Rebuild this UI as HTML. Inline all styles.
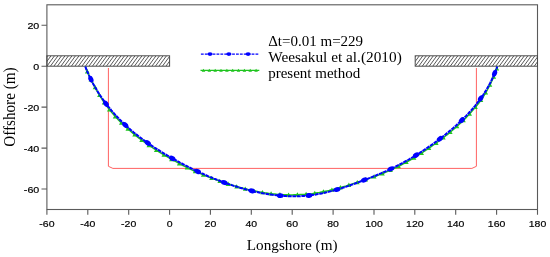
<!DOCTYPE html>
<html><head><meta charset="utf-8"><title>chart</title><style>html,body{margin:0;padding:0;background:#fff}svg{display:block}</style></head><body>
<svg width="550" height="257" viewBox="0 0 550 257">
<rect width="550" height="257" fill="#fff"/>
<rect x="46.9" y="4.8" width="490.6" height="204.7" fill="none" stroke="#5a5a5a" stroke-width="1.1"/>
<path d="M46.9,209.5 V214.7 M87.8,209.5 V214.7 M128.7,209.5 V214.7 M169.6,209.5 V214.7 M210.4,209.5 V214.7 M251.3,209.5 V214.7 M292.2,209.5 V214.7 M333.1,209.5 V214.7 M374.0,209.5 V214.7 M414.8,209.5 V214.7 M455.7,209.5 V214.7 M496.6,209.5 V214.7 M537.5,209.5 V214.7 M46.9,189.0 H41.5 M46.9,148.1 H41.5 M46.9,107.1 H41.5 M46.9,66.2 H41.5 M46.9,25.3 H41.5" stroke="#5a5a5a" stroke-width="1.1" fill="none"/>
<g font-family="'Liberation Sans', sans-serif" font-size="10.3" fill="#000" stroke="#000" stroke-width="0.2">
<text transform="translate(46.9 227.4) scale(1.02 0.94)" text-anchor="middle">-60</text>
<text transform="translate(87.8 227.4) scale(1.02 0.94)" text-anchor="middle">-40</text>
<text transform="translate(128.7 227.4) scale(1.02 0.94)" text-anchor="middle">-20</text>
<text transform="translate(169.6 227.4) scale(1.02 0.94)" text-anchor="middle">0</text>
<text transform="translate(210.4 227.4) scale(1.02 0.94)" text-anchor="middle">20</text>
<text transform="translate(251.3 227.4) scale(1.02 0.94)" text-anchor="middle">40</text>
<text transform="translate(292.2 227.4) scale(1.02 0.94)" text-anchor="middle">60</text>
<text transform="translate(333.1 227.4) scale(1.02 0.94)" text-anchor="middle">80</text>
<text transform="translate(374.0 227.4) scale(1.02 0.94)" text-anchor="middle">100</text>
<text transform="translate(414.8 227.4) scale(1.02 0.94)" text-anchor="middle">120</text>
<text transform="translate(455.7 227.4) scale(1.02 0.94)" text-anchor="middle">140</text>
<text transform="translate(496.6 227.4) scale(1.02 0.94)" text-anchor="middle">160</text>
<text transform="translate(537.5 227.4) scale(1.02 0.94)" text-anchor="middle">180</text>
<text transform="translate(39.3 192.5) scale(1.04 0.94)" text-anchor="end">-60</text>
<text transform="translate(39.3 151.6) scale(1.04 0.94)" text-anchor="end">-40</text>
<text transform="translate(39.3 110.6) scale(1.04 0.94)" text-anchor="end">-20</text>
<text transform="translate(39.3 69.7) scale(1.04 0.94)" text-anchor="end">0</text>
<text transform="translate(39.3 28.8) scale(1.04 0.94)" text-anchor="end">20</text>
</g>
<clipPath id="c0"><rect x="46.9" y="55.8" width="122.7" height="10.4"/></clipPath>
<path d="M32.90,66.2 L40.50,55.8 M36.40,66.2 L44.00,55.8 M39.90,66.2 L47.50,55.8 M43.40,66.2 L51.00,55.8 M46.90,66.2 L54.50,55.8 M50.40,66.2 L58.00,55.8 M53.90,66.2 L61.50,55.8 M57.40,66.2 L65.00,55.8 M60.90,66.2 L68.50,55.8 M64.40,66.2 L72.00,55.8 M67.90,66.2 L75.50,55.8 M71.40,66.2 L79.00,55.8 M74.90,66.2 L82.50,55.8 M78.40,66.2 L86.00,55.8 M81.90,66.2 L89.50,55.8 M85.40,66.2 L93.00,55.8 M88.90,66.2 L96.50,55.8 M92.40,66.2 L100.00,55.8 M95.90,66.2 L103.50,55.8 M99.40,66.2 L107.00,55.8 M102.90,66.2 L110.50,55.8 M106.40,66.2 L114.00,55.8 M109.90,66.2 L117.50,55.8 M113.40,66.2 L121.00,55.8 M116.90,66.2 L124.50,55.8 M120.40,66.2 L128.00,55.8 M123.90,66.2 L131.50,55.8 M127.40,66.2 L135.00,55.8 M130.90,66.2 L138.50,55.8 M134.40,66.2 L142.00,55.8 M137.90,66.2 L145.50,55.8 M141.40,66.2 L149.00,55.8 M144.90,66.2 L152.50,55.8 M148.40,66.2 L156.00,55.8 M151.90,66.2 L159.50,55.8 M155.40,66.2 L163.00,55.8 M158.90,66.2 L166.50,55.8 M162.40,66.2 L170.00,55.8 M165.90,66.2 L173.50,55.8 M169.40,66.2 L177.00,55.8" stroke="#444" stroke-width="0.9" fill="none" clip-path="url(#c0)"/>
<rect x="46.9" y="55.8" width="122.7" height="10.4" fill="none" stroke="#4a4a4a" stroke-width="1"/>
<clipPath id="c1"><rect x="415.2" y="55.8" width="122.3" height="10.4"/></clipPath>
<path d="M401.25,66.2 L408.85,55.8 M404.75,66.2 L412.35,55.8 M408.25,66.2 L415.85,55.8 M411.75,66.2 L419.35,55.8 M415.25,66.2 L422.85,55.8 M418.75,66.2 L426.35,55.8 M422.25,66.2 L429.85,55.8 M425.75,66.2 L433.35,55.8 M429.25,66.2 L436.85,55.8 M432.75,66.2 L440.35,55.8 M436.25,66.2 L443.85,55.8 M439.75,66.2 L447.35,55.8 M443.25,66.2 L450.85,55.8 M446.75,66.2 L454.35,55.8 M450.25,66.2 L457.85,55.8 M453.75,66.2 L461.35,55.8 M457.25,66.2 L464.85,55.8 M460.75,66.2 L468.35,55.8 M464.25,66.2 L471.85,55.8 M467.75,66.2 L475.35,55.8 M471.25,66.2 L478.85,55.8 M474.75,66.2 L482.35,55.8 M478.25,66.2 L485.85,55.8 M481.75,66.2 L489.35,55.8 M485.25,66.2 L492.85,55.8 M488.75,66.2 L496.35,55.8 M492.25,66.2 L499.85,55.8 M495.75,66.2 L503.35,55.8 M499.25,66.2 L506.85,55.8 M502.75,66.2 L510.35,55.8 M506.25,66.2 L513.85,55.8 M509.75,66.2 L517.35,55.8 M513.25,66.2 L520.85,55.8 M516.75,66.2 L524.35,55.8 M520.25,66.2 L527.85,55.8 M523.75,66.2 L531.35,55.8 M527.25,66.2 L534.85,55.8 M530.75,66.2 L538.35,55.8 M534.25,66.2 L541.85,55.8" stroke="#444" stroke-width="0.9" fill="none" clip-path="url(#c1)"/>
<rect x="415.2" y="55.8" width="122.3" height="10.4" fill="none" stroke="#4a4a4a" stroke-width="1"/>
<path d="M108.4,68 V166.3 L112.9,168.4 H471.9 L476.4,166.3 V68" fill="none" stroke="#ff6262" stroke-width="1"/>
<path d="M85.3,66.5 L86.0,68.3 L86.7,70.2 L87.5,72.0 L88.3,73.8 L89.1,75.6 L89.9,77.4 L90.8,79.2 L91.6,80.9 L92.5,82.7 L93.5,84.4 L94.4,86.2 L95.4,87.9 L96.3,89.6 L97.3,91.4 L98.3,93.1 L99.3,94.8 L100.3,96.5 L101.4,98.1 L102.4,99.8 L103.5,101.5 L104.6,103.1 L105.8,104.7 L106.9,106.3 L108.1,107.9 L109.3,109.5 L110.5,111.1 L111.8,112.6 L113.1,114.1 L114.4,115.6 L115.7,117.1 L117.1,118.5 L118.5,120.0 L119.9,121.4 L121.3,122.8 L122.7,124.2 L124.1,125.5 L125.6,126.9 L127.1,128.2 L128.5,129.5 L130.0,130.8 L131.6,132.1 L133.1,133.4 L134.6,134.6 L136.2,135.9 L137.7,137.1 L139.3,138.3 L140.9,139.5 L142.5,140.7 L144.1,141.9 L145.7,143.0 L147.3,144.1 L148.9,145.3 L150.6,146.4 L152.2,147.5 L153.9,148.6 L155.6,149.6 L157.2,150.7 L158.9,151.8 L160.6,152.8 L162.3,153.8 L164.0,154.9 L165.7,155.9 L167.4,156.9 L169.1,157.9 L170.8,158.8 L172.5,159.8 L174.2,160.8 L176.0,161.7 L177.7,162.7 L179.5,163.6 L181.2,164.6 L182.9,165.5 L184.7,166.4 L186.5,167.3 L188.2,168.2 L190.0,169.1 L191.8,169.9 L193.6,170.7 L195.4,171.5 L197.2,172.3 L199.1,173.1 L200.9,173.8 L202.7,174.6 L204.5,175.3 L206.4,176.1 L208.2,176.8 L210.1,177.5 L211.9,178.2 L213.8,178.9 L215.6,179.6 L217.5,180.3 L219.3,180.9 L221.2,181.6 L223.0,182.3 L224.9,182.9 L226.8,183.5 L228.7,184.1 L230.5,184.7 L232.4,185.3 L234.3,185.9 L236.2,186.4 L238.1,187.0 L240.0,187.5 L241.9,188.0 L243.8,188.5 L245.7,189.0 L247.6,189.4 L249.6,189.9 L251.5,190.3 L253.4,190.7 L255.3,191.1 L257.3,191.5 L259.2,191.9 L261.1,192.2 L263.1,192.5 L265.0,192.9 L267.0,193.1 L268.9,193.4 L270.8,193.7 L272.8,193.9 L274.7,194.1 L276.7,194.3 L278.7,194.4 L280.6,194.6 L282.6,194.7 L284.5,194.8 L286.5,194.8 L288.4,194.9 L290.4,194.9 L292.3,194.9 L294.3,194.8 L296.2,194.8 L298.2,194.7 L300.1,194.6 L302.1,194.5 L304.0,194.4 L306.0,194.2 L307.9,194.1 L309.9,193.9 L311.8,193.7 L313.7,193.4 L315.7,193.1 L317.6,192.8 L319.5,192.5 L321.4,192.1 L323.4,191.7 L325.3,191.3 L327.2,190.9 L329.1,190.5 L331.0,190.0 L332.9,189.5 L334.8,189.1 L336.7,188.6 L338.6,188.0 L340.5,187.5 L342.4,187.0 L344.3,186.4 L346.2,185.9 L348.1,185.3 L349.9,184.7 L351.8,184.1 L353.7,183.6 L355.6,182.9 L357.4,182.3 L359.3,181.7 L361.2,181.1 L363.1,180.5 L364.9,179.8 L366.8,179.2 L368.7,178.6 L370.5,177.9 L372.4,177.3 L374.3,176.6 L376.1,176.0 L378.0,175.3 L379.9,174.6 L381.7,173.9 L383.5,173.2 L385.4,172.4 L387.2,171.6 L389.0,170.8 L390.8,170.0 L392.6,169.2 L394.4,168.3 L396.2,167.5 L398.0,166.6 L399.7,165.8 L401.5,164.8 L403.2,163.9 L405.0,163.0 L406.7,162.0 L408.4,161.0 L410.2,160.0 L411.9,159.0 L413.6,158.0 L415.3,157.0 L417.0,156.0 L418.6,154.9 L420.3,153.9 L422.0,152.8 L423.6,151.7 L425.3,150.6 L426.9,149.5 L428.6,148.4 L430.2,147.3 L431.8,146.2 L433.5,145.0 L435.1,143.9 L436.7,142.7 L438.3,141.5 L439.8,140.3 L441.4,139.1 L443.0,137.9 L444.6,136.7 L446.1,135.5 L447.7,134.3 L449.2,133.0 L450.7,131.7 L452.2,130.5 L453.7,129.2 L455.2,127.9 L456.7,126.6 L458.2,125.2 L459.6,123.9 L461.1,122.5 L462.5,121.2 L463.9,119.8 L465.4,118.4 L466.7,116.9 L468.1,115.5 L469.5,114.1 L470.8,112.6 L472.1,111.1 L473.4,109.6 L474.7,108.1 L476.0,106.6 L477.2,105.0 L478.5,103.5 L479.7,101.9 L480.9,100.3 L482.0,98.6 L483.1,97.0 L484.1,95.3 L485.2,93.6 L486.2,91.9 L487.2,90.1 L488.1,88.4 L489.0,86.7 L490.0,84.9 L490.8,83.1 L491.7,81.3 L492.5,79.5 L493.3,77.7 L494.1,75.9 L494.8,74.0 L495.5,72.2 L496.2,70.3 L496.9,68.5 L497.5,66.6" fill="none" stroke="#1fc41f" stroke-width="1.5"/>
<path d="M84.9,73.4 L89.7,73.4 L87.3,69.1Z M88.6,81.5 L93.4,81.5 L91.0,77.2Z M92.7,89.3 L97.5,89.3 L95.1,85.0Z M97.1,97.0 L101.9,97.0 L99.5,92.7Z M101.8,104.4 L106.6,104.4 L104.2,100.1Z M107.0,111.6 L111.8,111.6 L109.4,107.3Z M112.8,118.4 L117.6,118.4 L115.2,114.1Z M119.0,124.8 L123.8,124.8 L121.4,120.5Z M125.5,130.8 L130.3,130.8 L127.9,126.5Z M132.3,136.6 L137.1,136.6 L134.7,132.3Z M139.3,142.0 L144.1,142.0 L141.7,137.7Z M146.5,147.2 L151.3,147.2 L148.9,142.9Z M153.9,152.0 L158.7,152.0 L156.3,147.7Z M161.5,156.7 L166.3,156.7 L163.9,152.4Z M169.1,161.2 L173.9,161.2 L171.5,156.9Z M176.9,165.4 L181.7,165.4 L179.3,161.1Z M184.7,169.6 L189.5,169.6 L187.1,165.3Z M192.8,173.3 L197.6,173.3 L195.2,169.0Z M200.9,176.7 L205.7,176.7 L203.3,172.4Z M209.2,180.0 L214.0,180.0 L211.6,175.7Z M217.4,183.0 L222.2,183.0 L219.8,178.7Z M225.8,185.9 L230.6,185.9 L228.2,181.6Z M234.3,188.5 L239.1,188.5 L236.7,184.2Z M242.8,190.8 L247.6,190.8 L245.2,186.5Z M251.4,192.7 L256.2,192.7 L253.8,188.4Z M260.0,194.3 L264.8,194.3 L262.4,190.0Z M268.7,195.6 L273.5,195.6 L271.1,191.3Z M277.5,196.4 L282.3,196.4 L279.9,192.1Z M286.2,196.8 L291.0,196.8 L288.6,192.5Z M295.0,196.6 L299.8,196.6 L297.4,192.3Z M303.7,196.1 L308.5,196.1 L306.1,191.8Z M312.4,195.1 L317.2,195.1 L314.8,190.8Z M321.0,193.6 L325.8,193.6 L323.4,189.3Z M329.5,191.7 L334.3,191.7 L331.9,187.4Z M338.0,189.4 L342.8,189.4 L340.4,185.1Z M346.5,186.9 L351.3,186.9 L348.9,182.6Z M354.9,184.3 L359.7,184.3 L357.3,180.0Z M363.3,181.5 L368.1,181.5 L365.7,177.2Z M371.7,178.6 L376.5,178.6 L374.1,174.3Z M380.0,175.5 L384.8,175.5 L382.4,171.2Z M388.1,172.0 L392.9,172.0 L390.5,167.7Z M396.1,168.3 L400.9,168.3 L398.5,164.0Z M403.9,164.1 L408.7,164.1 L406.3,159.8Z M411.6,159.7 L416.4,159.7 L414.0,155.4Z M419.2,155.0 L424.0,155.0 L421.6,150.7Z M426.5,150.1 L431.3,150.1 L428.9,145.8Z M433.8,145.0 L438.6,145.0 L436.2,140.7Z M440.9,139.6 L445.7,139.6 L443.3,135.3Z M447.8,134.1 L452.6,134.1 L450.2,129.8Z M454.5,128.3 L459.3,128.3 L456.9,124.0Z M461.0,122.2 L465.8,122.2 L463.4,117.9Z M467.2,115.8 L472.0,115.8 L469.6,111.5Z M473.0,109.1 L477.8,109.1 L475.4,104.8Z M478.5,102.1 L483.3,102.1 L480.9,97.8Z M483.3,94.6 L488.1,94.6 L485.7,90.3Z M487.5,86.8 L492.3,86.8 L489.9,82.5Z M491.3,78.8 L496.1,78.8 L493.7,74.5Z M494.4,70.5 L499.2,70.5 L496.8,66.2Z" fill="#1fc41f"/>
<path d="M85.3,66.5 L86.0,68.3 L86.7,70.2 L87.5,72.0 L88.3,73.8 L89.1,75.6 L90.0,77.4 L90.8,79.1 L91.7,80.9 L92.6,82.7 L93.5,84.4 L94.5,86.1 L95.5,87.8 L96.5,89.5 L97.5,91.2 L98.5,92.9 L99.6,94.6 L100.7,96.2 L101.8,97.8 L102.9,99.4 L104.1,101.0 L105.3,102.6 L106.4,104.2 L107.6,105.8 L108.9,107.3 L110.1,108.8 L111.4,110.4 L112.7,111.9 L114.0,113.3 L115.3,114.8 L116.6,116.3 L118.0,117.7 L119.3,119.1 L120.7,120.5 L122.1,121.9 L123.5,123.3 L125.0,124.7 L126.4,126.0 L127.9,127.3 L129.3,128.6 L130.8,129.9 L132.3,131.2 L133.8,132.5 L135.4,133.7 L136.9,134.9 L138.5,136.2 L140.0,137.4 L141.6,138.5 L143.2,139.7 L144.8,140.9 L146.4,142.0 L148.0,143.2 L149.6,144.3 L151.3,145.4 L152.9,146.5 L154.5,147.6 L156.2,148.6 L157.9,149.7 L159.5,150.7 L161.2,151.8 L162.9,152.8 L164.6,153.8 L166.3,154.8 L168.0,155.8 L169.7,156.8 L171.4,157.8 L173.1,158.8 L174.8,159.7 L176.6,160.7 L178.3,161.6 L180.0,162.6 L181.8,163.5 L183.5,164.4 L185.3,165.3 L187.0,166.2 L188.8,167.1 L190.5,168.0 L192.3,168.9 L194.1,169.8 L195.8,170.6 L197.6,171.5 L199.4,172.3 L201.2,173.1 L203.0,173.9 L204.8,174.7 L206.6,175.5 L208.4,176.3 L210.2,177.1 L212.1,177.8 L213.9,178.6 L215.7,179.3 L217.6,180.0 L219.4,180.7 L221.2,181.4 L223.1,182.1 L224.9,182.8 L226.8,183.5 L228.7,184.1 L230.5,184.7 L232.4,185.4 L234.3,186.0 L236.2,186.5 L238.1,187.1 L239.9,187.7 L241.8,188.2 L243.7,188.8 L245.6,189.3 L247.5,189.8 L249.5,190.3 L251.4,190.8 L253.3,191.2 L255.2,191.7 L257.1,192.1 L259.1,192.5 L261.0,192.9 L262.9,193.3 L264.9,193.6 L266.8,193.9 L268.8,194.3 L270.7,194.5 L272.7,194.8 L274.6,195.1 L276.6,195.3 L278.5,195.5 L280.5,195.7 L282.5,195.9 L284.4,196.0 L286.4,196.1 L288.4,196.2 L290.4,196.3 L292.3,196.3 L294.3,196.3 L296.3,196.3 L298.2,196.2 L300.2,196.2 L302.2,196.0 L304.1,195.9 L306.1,195.8 L308.1,195.6 L310.0,195.3 L312.0,195.1 L313.9,194.8 L315.9,194.5 L317.8,194.1 L319.8,193.8 L321.7,193.4 L323.6,193.0 L325.6,192.6 L327.5,192.1 L329.4,191.6 L331.3,191.1 L333.2,190.6 L335.1,190.1 L337.0,189.5 L338.9,189.0 L340.8,188.4 L342.7,187.8 L344.5,187.2 L346.4,186.6 L348.3,185.9 L350.1,185.3 L352.0,184.6 L353.8,184.0 L355.7,183.3 L357.6,182.6 L359.4,181.9 L361.2,181.2 L363.1,180.5 L364.9,179.8 L366.8,179.1 L368.6,178.4 L370.4,177.7 L372.3,176.9 L374.1,176.2 L375.9,175.5 L377.7,174.7 L379.6,173.9 L381.4,173.2 L383.2,172.4 L385.0,171.6 L386.8,170.8 L388.6,169.9 L390.4,169.1 L392.1,168.2 L393.9,167.4 L395.7,166.5 L397.4,165.6 L399.2,164.7 L400.9,163.8 L402.7,162.9 L404.4,161.9 L406.1,161.0 L407.9,160.0 L409.6,159.0 L411.3,158.0 L413.0,157.0 L414.7,156.0 L416.3,155.0 L418.0,153.9 L419.7,152.9 L421.3,151.8 L423.0,150.7 L424.6,149.6 L426.3,148.5 L427.9,147.4 L429.5,146.3 L431.1,145.2 L432.8,144.0 L434.4,142.9 L436.0,141.7 L437.5,140.6 L439.1,139.4 L440.7,138.2 L442.3,137.0 L443.8,135.8 L445.4,134.6 L446.9,133.3 L448.4,132.1 L449.9,130.8 L451.5,129.5 L453.0,128.3 L454.4,127.0 L455.9,125.7 L457.4,124.3 L458.8,123.0 L460.3,121.7 L461.7,120.3 L463.1,118.9 L464.5,117.5 L465.9,116.1 L467.2,114.7 L468.6,113.2 L469.9,111.8 L471.2,110.3 L472.5,108.8 L473.8,107.3 L475.1,105.8 L476.3,104.3 L477.5,102.7 L478.7,101.2 L479.9,99.6 L481.0,98.0 L482.2,96.3 L483.3,94.7 L484.3,93.1 L485.4,91.4 L486.4,89.7 L487.4,88.0 L488.4,86.3 L489.3,84.6 L490.3,82.8 L491.1,81.1 L492.0,79.3 L492.8,77.5 L493.6,75.7 L494.4,73.9 L495.2,72.0 L495.9,70.2 L496.6,68.4 L497.2,66.5" fill="none" stroke="#0000ff" stroke-width="2" stroke-dasharray="3.8 0.7"/>
<ellipse cx="90.9" cy="79.2" rx="3.4" ry="2.4" fill="#0000ff" transform="rotate(64 90.9 79.2)"/>
<ellipse cx="106.0" cy="103.7" rx="3.4" ry="2.4" fill="#0000ff" transform="rotate(53 106.0 103.7)"/>
<ellipse cx="125.3" cy="125.0" rx="3.4" ry="2.4" fill="#0000ff" transform="rotate(43 125.3 125.0)"/>
<ellipse cx="147.8" cy="143.0" rx="3.4" ry="2.4" fill="#0000ff" transform="rotate(35 147.8 143.0)"/>
<ellipse cx="172.2" cy="158.3" rx="3.4" ry="2.4" fill="#0000ff" transform="rotate(30 172.2 158.3)"/>
<ellipse cx="197.7" cy="171.5" rx="3.4" ry="2.4" fill="#0000ff" transform="rotate(25 197.7 171.5)"/>
<ellipse cx="224.3" cy="182.6" rx="3.4" ry="2.4" fill="#0000ff" transform="rotate(20 224.3 182.6)"/>
<ellipse cx="251.9" cy="190.9" rx="3.4" ry="2.4" fill="#0000ff" transform="rotate(14 251.9 190.9)"/>
<ellipse cx="280.3" cy="195.7" rx="3.4" ry="2.4" fill="#0000ff" transform="rotate(5 280.3 195.7)"/>
<ellipse cx="309.0" cy="195.5" rx="3.4" ry="2.4" fill="#0000ff" transform="rotate(-7 309.0 195.5)"/>
<ellipse cx="337.1" cy="189.5" rx="3.4" ry="2.4" fill="#0000ff" transform="rotate(-16 337.1 189.5)"/>
<ellipse cx="364.3" cy="180.0" rx="3.4" ry="2.4" fill="#0000ff" transform="rotate(-21 364.3 180.0)"/>
<ellipse cx="390.9" cy="168.9" rx="3.4" ry="2.4" fill="#0000ff" transform="rotate(-25 390.9 168.9)"/>
<ellipse cx="416.1" cy="155.1" rx="3.4" ry="2.4" fill="#0000ff" transform="rotate(-32 416.1 155.1)"/>
<ellipse cx="439.9" cy="138.8" rx="3.4" ry="2.4" fill="#0000ff" transform="rotate(-37 439.9 138.8)"/>
<ellipse cx="461.8" cy="120.2" rx="3.4" ry="2.4" fill="#0000ff" transform="rotate(-44 461.8 120.2)"/>
<ellipse cx="480.7" cy="98.4" rx="3.4" ry="2.4" fill="#0000ff" transform="rotate(-55 480.7 98.4)"/>
<ellipse cx="494.6" cy="73.3" rx="3.4" ry="2.4" fill="#0000ff" transform="rotate(-68 494.6 73.3)"/>
<path d="M200.9,54.1 H259.3" stroke="#0000ff" stroke-width="1.4" stroke-dasharray="2.8 1.1" fill="none"/>
<ellipse cx="210" cy="54.1" rx="2.6" ry="1.8" fill="#0000ff"/>
<ellipse cx="228.9" cy="54.1" rx="2.6" ry="1.8" fill="#0000ff"/>
<ellipse cx="248.1" cy="54.1" rx="2.6" ry="1.8" fill="#0000ff"/>
<path d="M200.5,70.4 H259.3" stroke="#1fc41f" stroke-width="1.25" fill="none"/>
<path d="M201.7,71.8 L205.3,71.8 L203.5,68.7Z M207.5,71.8 L211.1,71.8 L209.3,68.7Z M213.4,71.8 L217.0,71.8 L215.2,68.7Z M219.2,71.8 L222.8,71.8 L221.0,68.7Z M225.1,71.8 L228.7,71.8 L226.9,68.7Z M230.9,71.8 L234.5,71.8 L232.7,68.7Z M236.7,71.8 L240.3,71.8 L238.5,68.7Z M242.6,71.8 L246.2,71.8 L244.4,68.7Z M248.4,71.8 L252.0,71.8 L250.2,68.7Z M254.3,71.8 L257.9,71.8 L256.1,68.7Z" fill="#1fc41f"/>
<g font-family="'Liberation Serif', serif" font-size="15" fill="#000">
<text x="268.2" y="46.3">Δt=0.01 m=229</text>
<text x="268.2" y="62.4" textLength="133.6" lengthAdjust="spacingAndGlyphs">Weesakul et al.(2010)</text>
<text x="268.2" y="77.5">present method</text>
<text x="292.2" y="250" text-anchor="middle" font-size="15.2">Longshore (m)</text>
<text transform="translate(15 107.1) rotate(-90) scale(0.98 1.05)" text-anchor="middle" font-size="15.5">Offshore (m)</text>
</g>
</svg>
</body></html>
